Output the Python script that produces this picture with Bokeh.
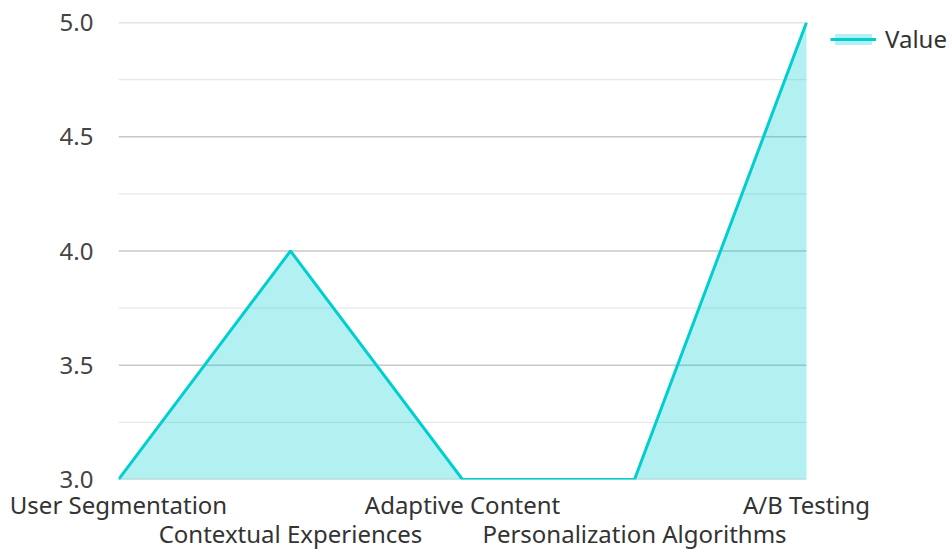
from bokeh.plotting import figure
from bokeh.models import Range1d, FixedTicker, LinearAxis, Legend, LegendItem
from bokeh.embed import file_html
from bokeh.resources import INLINE

categories = ["User Segmentation", "Contextual Experiences", "Adaptive Content",
              "Personalization Algorithms", "A/B Testing"]
values = [3, 4, 3, 3, 5]
y_ticks = [3.0, 3.5, 4.0, 4.5, 5.0]
y_minor = [3.25, 3.75, 4.25, 4.75]
y_labels = ["3.0", "3.5", "4.0", "4.5", "5.0"]
series_name = "Value"

FONT = "Noto Sans"
FS = "24px"
TEAL = "#00CED1"

W, H = 950, 552
LEFT, TOP, BOTTOM = 118, 22, 72
PLOT_W = 688  # width of the data area; the rest on the right holds the legend

xs = list(range(len(categories)))
n = len(categories) - 1
x_end = n * (W - LEFT) / PLOT_W

p = figure(width=W, height=H, output_backend="svg", toolbar_location=None,
           x_range=Range1d(0, x_end), y_range=Range1d(y_ticks[0], y_ticks[-1]),
           x_axis_type=None, y_axis_type=None,
           min_border_left=LEFT, min_border_right=0, min_border_top=TOP, min_border_bottom=BOTTOM)
p.outline_line_color = None
p.background_fill_color = "white"
p.border_fill_color = "white"
p.xgrid.visible = False
p.ygrid.visible = False

# horizontal grid lines, limited to the data area
p.segment(x0=0, x1=n, y0=y_minor, y1=y_minor, line_color="#e8e8e8", line_width=1.3)
p.segment(x0=0, x1=n, y0=y_ticks, y1=y_ticks, line_color="#c8c8c8", line_width=1.3)

# y axis
yaxis = LinearAxis(ticker=FixedTicker(ticks=y_ticks, minor_ticks=[]))
yaxis.major_label_overrides = {t: l for t, l in zip(y_ticks, y_labels)}
yaxis.axis_line_color = None
yaxis.major_tick_line_color = None
yaxis.minor_tick_line_color = None
yaxis.major_tick_out = 0
yaxis.major_tick_in = 0
yaxis.major_label_standoff = 25
yaxis.major_label_text_font = FONT
yaxis.major_label_text_font_size = FS
yaxis.major_label_text_color = "#444444"
p.add_layout(yaxis, "left")

# x axes (two rows of alternating labels)
def make_xaxis(idx, standoff):
    ax = LinearAxis(ticker=FixedTicker(ticks=[xs[i] for i in idx], minor_ticks=[]))
    ax.major_label_overrides = {xs[i]: categories[i] for i in idx}
    ax.axis_line_color = None
    ax.major_tick_line_color = None
    ax.minor_tick_line_color = None
    ax.major_tick_out = 0
    ax.major_tick_in = 0
    ax.major_label_standoff = standoff
    ax.major_label_text_font = FONT
    ax.major_label_text_font_size = FS
    ax.major_label_text_color = "#333333"
    return ax

p.add_layout(make_xaxis([0, 2, 4], 8), "below")
p.add_layout(make_xaxis([1, 3], -7), "below")

area = p.varea(x=xs, y1=y_ticks[0], y2=values, fill_color=TEAL, fill_alpha=0.3)
line = p.line(x=xs, y=values, line_color=TEAL, line_width=3)

legend = Legend(items=[LegendItem(label=series_name, renderers=[area, line])],
                location=(712, 424), border_line_color=None, background_fill_alpha=0,
                padding=0, margin=0, glyph_width=46, glyph_height=14, label_standoff=9,
                label_text_font=FONT, label_text_font_size=FS, label_text_color="#333333")
p.add_layout(legend, "center")

open("out.html", "w").write(file_html(p, INLINE))
